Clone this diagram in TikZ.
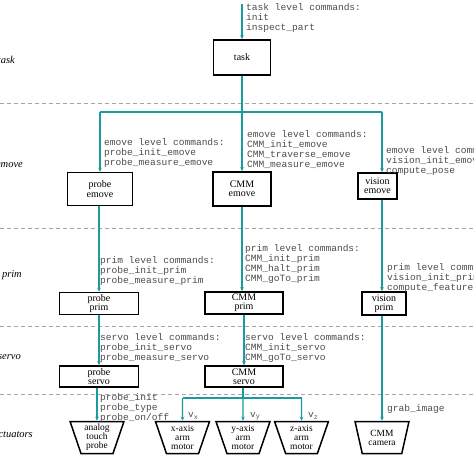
\documentclass[tikz,border=0pt]{standalone}
\usepackage{fontspec}
\setmainfont{Liberation Serif}
\setmonofont{Liberation Mono}
\usetikzlibrary{arrows.meta,shapes.geometric}
\definecolor{linha}{RGB}{25,155,160}

\tikzset{
  caixa/.style={draw, line width=1.5bp, rectangle, inner sep=0pt, align=center,
    font=\fontsize{10}{9.5}\selectfont},
  atuador/.style={draw, line width=1.5bp, trapezium, shape border rotate=180,
    trapezium stretches=true, minimum width=54bp, minimum height=32bp,
    trapezium angle=72, inner sep=0pt, align=center,
    font=\fontsize{9.5}{9}\selectfont},
  fio/.style={linha, line width=1.2bp},
  seta/.style={fio, -{Stealth[length=4bp,width=3.5bp]}},
  cmd/.style={anchor=north west, inner sep=0pt, align=left,
    font=\ttfamily\fontsize{9.6}{10}\selectfont, text=black!70},
  nivel/.style={anchor=east, inner sep=0pt, font=\itshape\fontsize{10.5}{10}\selectfont},
  divisa/.style={gray!70, dash pattern=on 4bp off 3bp, line width=0.6bp}
}

\begin{document}
\begin{tikzpicture}[x=1bp,y=-1bp]
    \clip (0,0) rectangle (474,474);

    % Linhas divisórias dos níveis
    \draw[divisa] (0,103) -- (474,103);
    \draw[divisa] (0,228) -- (474,228);
    \draw[divisa] (0,326) -- (474,326);
    \draw[divisa] (0,394) -- (474,394);

    % Nomes dos níveis (à esquerda)
    \node[nivel] (ltask) at (15,60) {task};
    \node[nivel] (lemove) at (23,165) {emove};
    \node[nivel] (lprim) at (22,275) {prim};
    \node[nivel] (lservo) at (21,357) {servo};
    \node[nivel] (lact) at (33,435) {actuators};

    % Nível task
    \coordinate (topo) at (242,4);
    \node[caixa, minimum width=57bp, minimum height=35bp] (task) at (242,57.5) {task};
    \node[cmd] (ctask) at (246,3) {task level commands:\\init\\inspect\_part};
    \draw[seta] (topo) -- (task.north);

    % Nível emove
    \coordinate (busL) at (100,112);
    \coordinate (busM) at (242,112);
    \coordinate (busR) at (382,112);
    \node[caixa, minimum width=65bp, minimum height=33bp] (pe) at (100,189) {probe\\emove};
    \node[caixa, minimum width=58bp, minimum height=34bp] (ce) at (242,189) {CMM\\emove};
    \node[caixa, minimum width=39bp, minimum height=26bp] (ve) at (377.5,186) {vision\\emove};
    \draw[fio] (task.south) -- (busM);
    \draw[fio] (busL) -- (busR);
    \draw[seta] (busL) -- (pe.north);
    \draw[seta] (busM) -- (ce.north);
    \draw[seta] (busR) -- (busR |- ve.north);
    \node[cmd] (cpe) at (104,138) {emove level commands:\\probe\_init\_emove\\probe\_measure\_emove};
    \node[cmd] (cce) at (247,130) {emove level commands:\\CMM\_init\_emove\\CMM\_traverse\_emove\\CMM\_measure\_emove};
    \node[cmd] (cve) at (386,146) {emove level commands:\\vision\_init\_emove\\compute\_pose};

    % Nível prim
    \node[caixa, minimum width=79bp, minimum height=22bp] (pp) at (99,303.5) {probe\\prim};
    \node[caixa, minimum width=78bp, minimum height=22bp] (cp) at (244,303) {CMM\\prim};
    \node[caixa, minimum width=44bp, minimum height=23bp] (vp) at (384,303.5) {vision\\prim};
    \draw[seta] (pe.south -| pp.north) -- (pp.north);
    \draw[seta] (ce.south) -- (ce.south |- cp.north);
    \draw[seta] (busR |- ve.south) -- (busR |- vp.north);
    \node[cmd] (cpp) at (100,256) {prim level commands:\\probe\_init\_prim\\probe\_measure\_prim};
    \node[cmd] (ccp) at (245,244) {prim level commands:\\CMM\_init\_prim\\CMM\_halt\_prim\\CMM\_goTo\_prim};
    \node[cmd] (cvp) at (387,263) {prim level commands:\\vision\_init\_prim\\compute\_features};

    % Nível servo
    \node[caixa, minimum width=79bp, minimum height=21bp] (ps) at (99,376.5) {probe\\servo};
    \node[caixa, minimum width=78bp, minimum height=21bp] (cs) at (244,376.5) {CMM\\servo};
    \draw[seta] (pp.south) -- (ps.north);
    \draw[seta] (cp.south) -- (cs.north);
    \node[cmd] (cps) at (100,333) {servo level commands:\\probe\_init\_servo\\probe\_measure\_servo};
    \node[cmd] (ccs) at (245,333) {servo level commands:\\CMM\_init\_servo\\CMM\_goTo\_servo};

    % Atuadores
    \node[atuador] (tp) at (97,437.5) {analog\\touch\\probe};
    \node[atuador] (xm) at (182.5,437.5) {x-axis\\arm\\motor};
    \node[atuador] (ym) at (243,437.5) {y-axis\\arm\\motor};
    \node[atuador] (zm) at (301.5,437.5) {z-axis\\arm\\motor};
    \node[atuador] (cam) at (382,437.5) {CMM\\camera};
    \coordinate (abus) at (243,398);
    \draw[seta] (ps.south -| tp.north) -- (tp.north);
    \draw[fio] (cs.south -| abus) -- (abus);
    \draw[fio] (xm |- abus) -- (zm |- abus);
    \draw[seta] (xm |- abus) -- (xm.north);
    \draw[seta] (abus) -- (ym.north);
    \draw[seta] (zm |- abus) -- (zm.north);
    \draw[seta] (busR |- vp.south) -- (busR |- cam.north);
    \node[cmd] (ctp) at (100,393) {probe\_init\\probe\_type\\probe\_on/off};
    \node[cmd] (ccam) at (387,404) {grab\_image};
    \node[cmd, anchor=west] (vx) at (188,416) {v$_{\mathtt{x}}$};
    \node[cmd, anchor=west] (vy) at (250,416) {v$_{\mathtt{y}}$};
    \node[cmd, anchor=west] (vz) at (308,416) {v$_{\mathtt{z}}$};

\end{tikzpicture}
\end{document}
